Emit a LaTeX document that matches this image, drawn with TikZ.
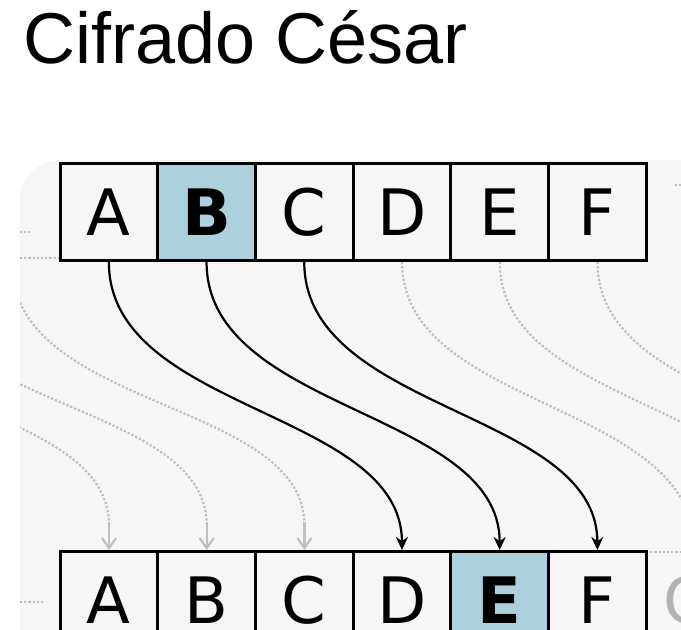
\documentclass[tikz,border=0pt]{standalone}
\usepackage{fontspec}
\usetikzlibrary{arrows.meta}
\setmainfont{DejaVu Sans}
\newfontfamily\titlefont{Liberation Sans}
\begin{document}
\begin{tikzpicture}[x=1pt,y=-1pt,
  cell/.style={draw=black,line width=3pt,minimum width=97.7pt,minimum height=97pt,inner sep=0pt,fill=gray!7,font=\fontsize{64}{64}\selectfont},
  hl/.style={fill={rgb,255:red,173;green,208;blue,221},font=\fontsize{64}{64}\selectfont\bfseries},
  shiftarr/.style={line width=2.2pt,-{Stealth[length=13pt,width=12pt]}},
  ghost/.style={gray!50,line width=2.2pt,dotted},
  ghostarr/.style={gray!50,line width=2.2pt,-{Straight Barb[length=10pt,width=14pt]}}]
\useasboundingbox (0,0) rectangle (681,630);
\fill[white] (0,0) rectangle (681,630);
\node[anchor=base west,font=\titlefont\fontsize{72}{72}\selectfont] (title) at (20,63) {Cifrado César};
\fill[gray!7,rounded corners=40pt] (20,160) rectangle (760,700);
\begin{scope}
\clip[rounded corners=40pt] (20,160) rectangle (760,700);
\foreach \i in {0,1,2} {
  \pgfmathsetmacro\xx{109+97.7*\i}
  \draw[ghost] (\xx-293,262) .. controls (\xx-293,410) and (\xx,400) .. (\xx,525);
  \draw[ghostarr] (\xx,522) -- (\xx,550);
}
\foreach \i in {3,4,5} {
  \pgfmathsetmacro\xx{109+97.7*\i}
  \draw[ghost] (\xx,262) .. controls (\xx,410) and (\xx+293,400) .. (\xx+293,550);
}
\draw[ghost] (20,258) -- (60,258);
\draw[ghost] (646,552) -- (681,552);
\draw[ghost] (20,602) -- (45,602);
\draw[ghost] (20,232) -- (30,232);
\node[gray!60,font=\fontsize{64}{64}\selectfont,anchor=west] (gG) at (660,600) {G};
\draw[ghost] (675,185) -- (681,185);
\end{scope}
\foreach \l [count=\i] in {A,B,C,D,E,F} {
  \node[cell] (t\i) at ({60+97.7*(\i-0.5)},212) {\l};
}
\node[cell,hl] at (t2) {B};
\foreach \l [count=\i] in {A,B,C,D,E,F} {
  \node[cell] (b\i) at ({60+97.7*(\i-0.5)},600) {\l};
}
\node[cell,hl] at (b5) {E};
\foreach \s/\d in {1/4,2/5,3/6} {
  \draw[shiftarr] (t\s.south) .. controls ([yshift=-150pt]t\s.south) and ([yshift=140pt]b\d.north) .. (b\d.north);
}
\end{tikzpicture}
\end{document}
